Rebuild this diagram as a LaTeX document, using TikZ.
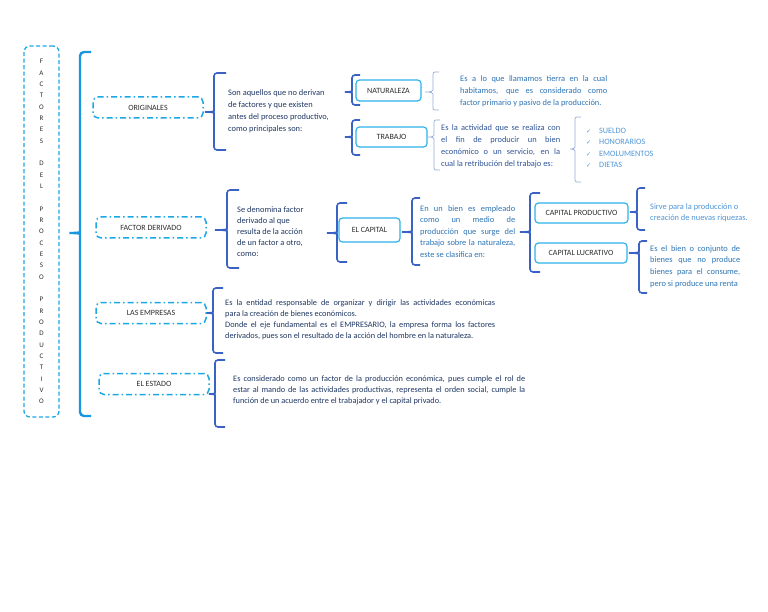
\documentclass[tikz,border=0pt]{standalone}
\usepackage{fontspec}
\setmainfont{Carlito}
\newfontfamily\symfont{DejaVu Sans}
\definecolor{cyanb}{RGB}{28,168,230}
\definecolor{bracec}{RGB}{24,150,224}
\definecolor{dbr}{RGB}{58,98,196}
\definecolor{lbr}{RGB}{150,175,215}
\definecolor{nodeb}{RGB}{45,178,235}
\definecolor{navy}{RGB}{32,56,100}
\definecolor{midb}{RGB}{46,117,182}
\definecolor{darkmid}{RGB}{47,85,151}
\definecolor{lightb}{RGB}{80,150,215}
\definecolor{lab}{RGB}{45,45,45}
\newcommand{\J}[2]{\makebox[#1][s]{#2}}
\newcommand{\Brk}[7]{%
  \draw[#1] (#2+#7,#3) -- (#2,#3) -- (#2,#5-4)
    .. controls (#2,#5-1) and (#2-1.5,#5) .. (#6,#5)
    .. controls (#2-1.5,#5) and (#2,#5+1) .. (#2,#5+4)
    -- (#2,#4) -- (#2+#7,#4);}
\tikzset{
  sidebox/.style={draw=cyanb, line width=1.3pt, dash pattern=on 4pt off 2.5pt, rounded corners=6pt,
    minimum width=35pt, minimum height=371pt, inner sep=0pt, align=center, text=lab,
    font=\fontsize{7}{11.33}\selectfont},
  secbox/.style={draw=cyanb, line width=1.5pt, dash pattern=on 6pt off 3pt on 1.5pt off 3pt,
    rounded corners=5pt, minimum width=110pt, minimum height=21pt, inner sep=0pt,
    font=\fontsize{8}{9}\selectfont, text=lab},
  rbox/.style={draw=nodeb, line width=1.2pt, fill=white, rounded corners=3.5pt, inner sep=0pt,
    font=\fontsize{8}{9}\selectfont, text=lab},
  dbrk/.style={draw=dbr, line width=1.6pt, rounded corners=3pt},
  lbrk/.style={draw=lbr, line width=0.7pt, rounded corners=2pt},
  bigbrk/.style={draw=bracec, line width=2.4pt, rounded corners=4pt},
  desc/.style={anchor=north west, inner sep=0pt, align=left},
}
\begin{document}
\begin{tikzpicture}[x=1pt,y=-1pt]
\path[use as bounding box, fill=white] (0,0) rectangle (768,612);

% side title box
\node[sidebox] (side) at (41.5,231.5) {F\\A\\C\\T\\O\\R\\E\\S\\[11.33pt]D\\E\\L\\[11.33pt]P\\R\\O\\C\\E\\S\\O\\[11.33pt]P\\R\\O\\D\\U\\C\\T\\I\\V\\O};

% brackets
\Brk{bigbrk}{80}{52}{416}{233}{67}{11}
\Brk{dbrk}{214}{73}{150}{112}{203}{12}
\Brk{dbrk}{352}{75}{105}{92}{343}{8}
\Brk{dbrk}{352}{120}{155}{137}{343}{8}
\Brk{lbrk}{433}{72}{110}{92}{424}{6}
\Brk{lbrk}{434}{120}{170}{137}{427}{6}
\Brk{lbrk}{575}{117}{182}{149}{569}{6}
\Brk{dbrk}{227}{190}{268}{230}{213}{12}
\Brk{dbrk}{337}{203}{262}{233}{325}{10}
\Brk{dbrk}{412}{198}{265}{232}{400}{8}
\Brk{dbrk}{530}{193}{272}{232}{518}{10}
\Brk{dbrk}{637}{188}{230}{212}{628}{8}
\Brk{dbrk}{639}{241}{293}{253}{627}{8}
\Brk{dbrk}{213}{288}{353}{313}{204}{10}
\Brk{dbrk}{215}{360}{427}{394}{207}{10}

% section boxes
\node[secbox] (orig) at (148,107.5) {ORIGINALES};
\node[secbox] (fd) at (151,227.5) {FACTOR DERIVADO};
\node[secbox] (emp) at (151,313) {LAS EMPRESAS};
\node[secbox] (est) at (154,384) {EL ESTADO};

% rounded nodes
\node[rbox, minimum width=65pt, minimum height=21pt] (nat) at (388.5,90.5) {NATURALEZA};
\node[rbox, minimum width=71pt, minimum height=20pt] (trab) at (391.5,137) {TRABAJO};
\node[rbox, minimum width=61pt, minimum height=24pt] (cap) at (369.5,230) {EL CAPITAL};
\node[rbox, minimum width=93pt, minimum height=20pt] (cp) at (581.5,213) {CAPITAL PRODUCTIVO};
\node[rbox, minimum width=92pt, minimum height=20pt] (cl) at (581,253) {CAPITAL LUCRATIVO};

% descriptions
\node[desc, text=navy, font=\fontsize{8.4}{12}\selectfont] (t1) at (228,89)
  {Son aquellos que no derivan\\de factores y que existen\\antes del proceso productivo,\\como principales son:};
\node[desc, text=midb, font=\fontsize{8.4}{12}\selectfont] (t2) at (460,75)
  {\J{147pt}{Es a lo que llamamos tierra en la cual}\\\J{147pt}{habitamos, que es considerado como}\\factor primario y pasivo de la producción.};
\node[desc, text=darkmid, font=\fontsize{8.4}{12}\selectfont] (t3) at (441,124)
  {\J{119pt}{Es la actividad que se realiza con}\\\J{119pt}{el fin de producir un bien}\\\J{119pt}{económico o un servicio, en la}\\cual la retribución del trabajo es:};
\node[desc, text=lightb, font=\fontsize{8.2}{11.3}\selectfont] (list) at (586,128)
  {\makebox[13pt][l]{\symfont\fontsize{6}{8}\selectfont ✓}SUELDO\\\makebox[13pt][l]{\symfont\fontsize{6}{8}\selectfont ✓}HONORARIOS\\\makebox[13pt][l]{\symfont\fontsize{6}{8}\selectfont ✓}EMOLUMENTOS\\\makebox[13pt][l]{\symfont\fontsize{6}{8}\selectfont ✓}DIETAS};
\node[desc, text=navy, font=\fontsize{8.4}{11}\selectfont] (t4) at (237,206)
  {Se denomina factor\\derivado al que\\resulta de la acción\\de un factor a otro,\\como:};
\node[desc, text=midb, font=\fontsize{8.4}{11.5}\selectfont] (t5) at (420,205)
  {\J{95pt}{En un bien es empleado}\\\J{95pt}{como un medio de}\\\J{95pt}{producción que surge del}\\\J{95pt}{trabajo sobre la naturaleza,}\\este se clasifica en:};
\node[desc, text=lightb, font=\fontsize{8.4}{11.5}\selectfont] (t6) at (650,203)
  {Sirve para la producción o\\creación de nuevas riquezas.};
\node[desc, text=midb, font=\fontsize{8.4}{11.7}\selectfont] (t7) at (650,245)
  {\J{90pt}{Es el bien o conjunto de}\\\J{90pt}{bienes que no produce}\\\J{90pt}{bienes para el consume,}\\pero si produce una renta};
\node[desc, text=navy, font=\fontsize{8.3}{10.7}\selectfont] (t8) at (225,300)
  {\J{270pt}{Es la entidad responsable de organizar y dirigir las actividades económicas}\\para la creación de bienes económicos.\\\J{270pt}{Donde el eje fundamental es el EMPRESARIO, la empresa forma los factores}\\derivados, pues son el resultado de la acción del hombre en la naturaleza.};
\node[desc, text=navy, font=\fontsize{8.3}{11}\selectfont] (t9) at (233,376)
  {\J{292pt}{Es considerado como un factor de la producción económica, pues cumple el rol de}\\\J{292pt}{estar al mando de las actividades productivas, representa el orden social, cumple la}\\función de un acuerdo entre el trabajador y el capital privado.};
\end{tikzpicture}
\end{document}
